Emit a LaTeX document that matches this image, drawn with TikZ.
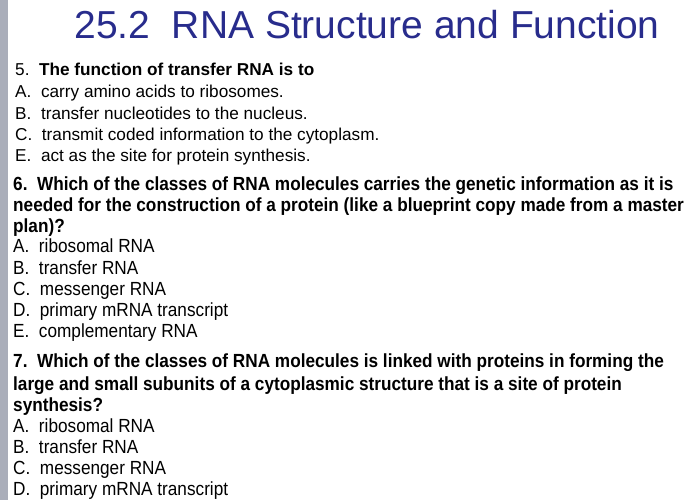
\documentclass[tikz,border=0pt]{standalone}
\usepackage{fontspec}
\setmainfont{Liberation Sans}
\newfontfamily\condfont[FakeStretch=0.905]{Liberation Sans}
\usetikzlibrary{positioning}
\definecolor{titleblue}{RGB}{40,44,140}
\definecolor{bargray}{RGB}{170,174,186}
\tikzset{
    line/.style={anchor=base west, inner sep=0pt, font=\fontsize{17.2}{19}\selectfont},
    cline/.style={line, font=\condfont\fontsize{19}{21}\selectfont},
}
\begin{document}
\begin{tikzpicture}[x=1pt, y=-1pt]
\useasboundingbox (0,0) rectangle (700,500);
\fill[bargray] (0,0) rectangle (8,500);

\node[anchor=base, inner sep=0pt, font=\fontsize{39}{44}\selectfont, text=titleblue] (title) at (367,39) {25.2\ \ RNA Structure and Function};

% question 5
\node[line] (q5)  at (15,76)  {5.\ \ \textbf{The function of transfer RNA is to}};
\node[line] (q5a) at (15,98)  {A.\ \ carry amino acids to ribosomes.};
\node[line] (q5b) at (15,119) {B.\ \ transfer nucleotides to the nucleus.};
\node[line] (q5c) at (15,140) {C.\ \ transmit coded information to the cytoplasm.};
\node[line] (q5e) at (15,161) {E.\ \ act as the site for protein synthesis.};

% question 6
\node[cline] (q6)  at (13,190) {\textbf{6.\ \ Which of the classes of RNA molecules carries the genetic information as it is}};
\node[cline] (q6l) at (13,211) {\textbf{needed for the construction of a protein (like a blueprint copy made from a master}};
\node[cline] (q6m) at (13,232) {\textbf{plan)?}};
\node[cline] (q6a) at (13,252) {A.\ \ ribosomal RNA};
\node[cline] (q6b) at (13,274) {B.\ \ transfer RNA};
\node[cline] (q6c) at (13,295) {C.\ \ messenger RNA};
\node[cline] (q6d) at (13,316) {D.\ \ primary mRNA transcript};
\node[cline] (q6e) at (13,337) {E.\ \ complementary RNA};

% question 7
\node[cline] (q7)  at (13,367) {\textbf{7.\ \ Which of the classes of RNA molecules is linked with proteins in forming the}};
\node[cline] (q7l) at (13,390) {\textbf{large and small subunits of a cytoplasmic structure that is a site of protein}};
\node[cline] (q7m) at (13,411) {\textbf{synthesis?}};
\node[cline] (q7a) at (13,432) {A.\ \ ribosomal RNA};
\node[cline] (q7b) at (13,453) {B.\ \ transfer RNA};
\node[cline] (q7c) at (13,474) {C.\ \ messenger RNA};
\node[cline] (q7d) at (13,495) {D.\ \ primary mRNA transcript};
\end{tikzpicture}
\end{document}
